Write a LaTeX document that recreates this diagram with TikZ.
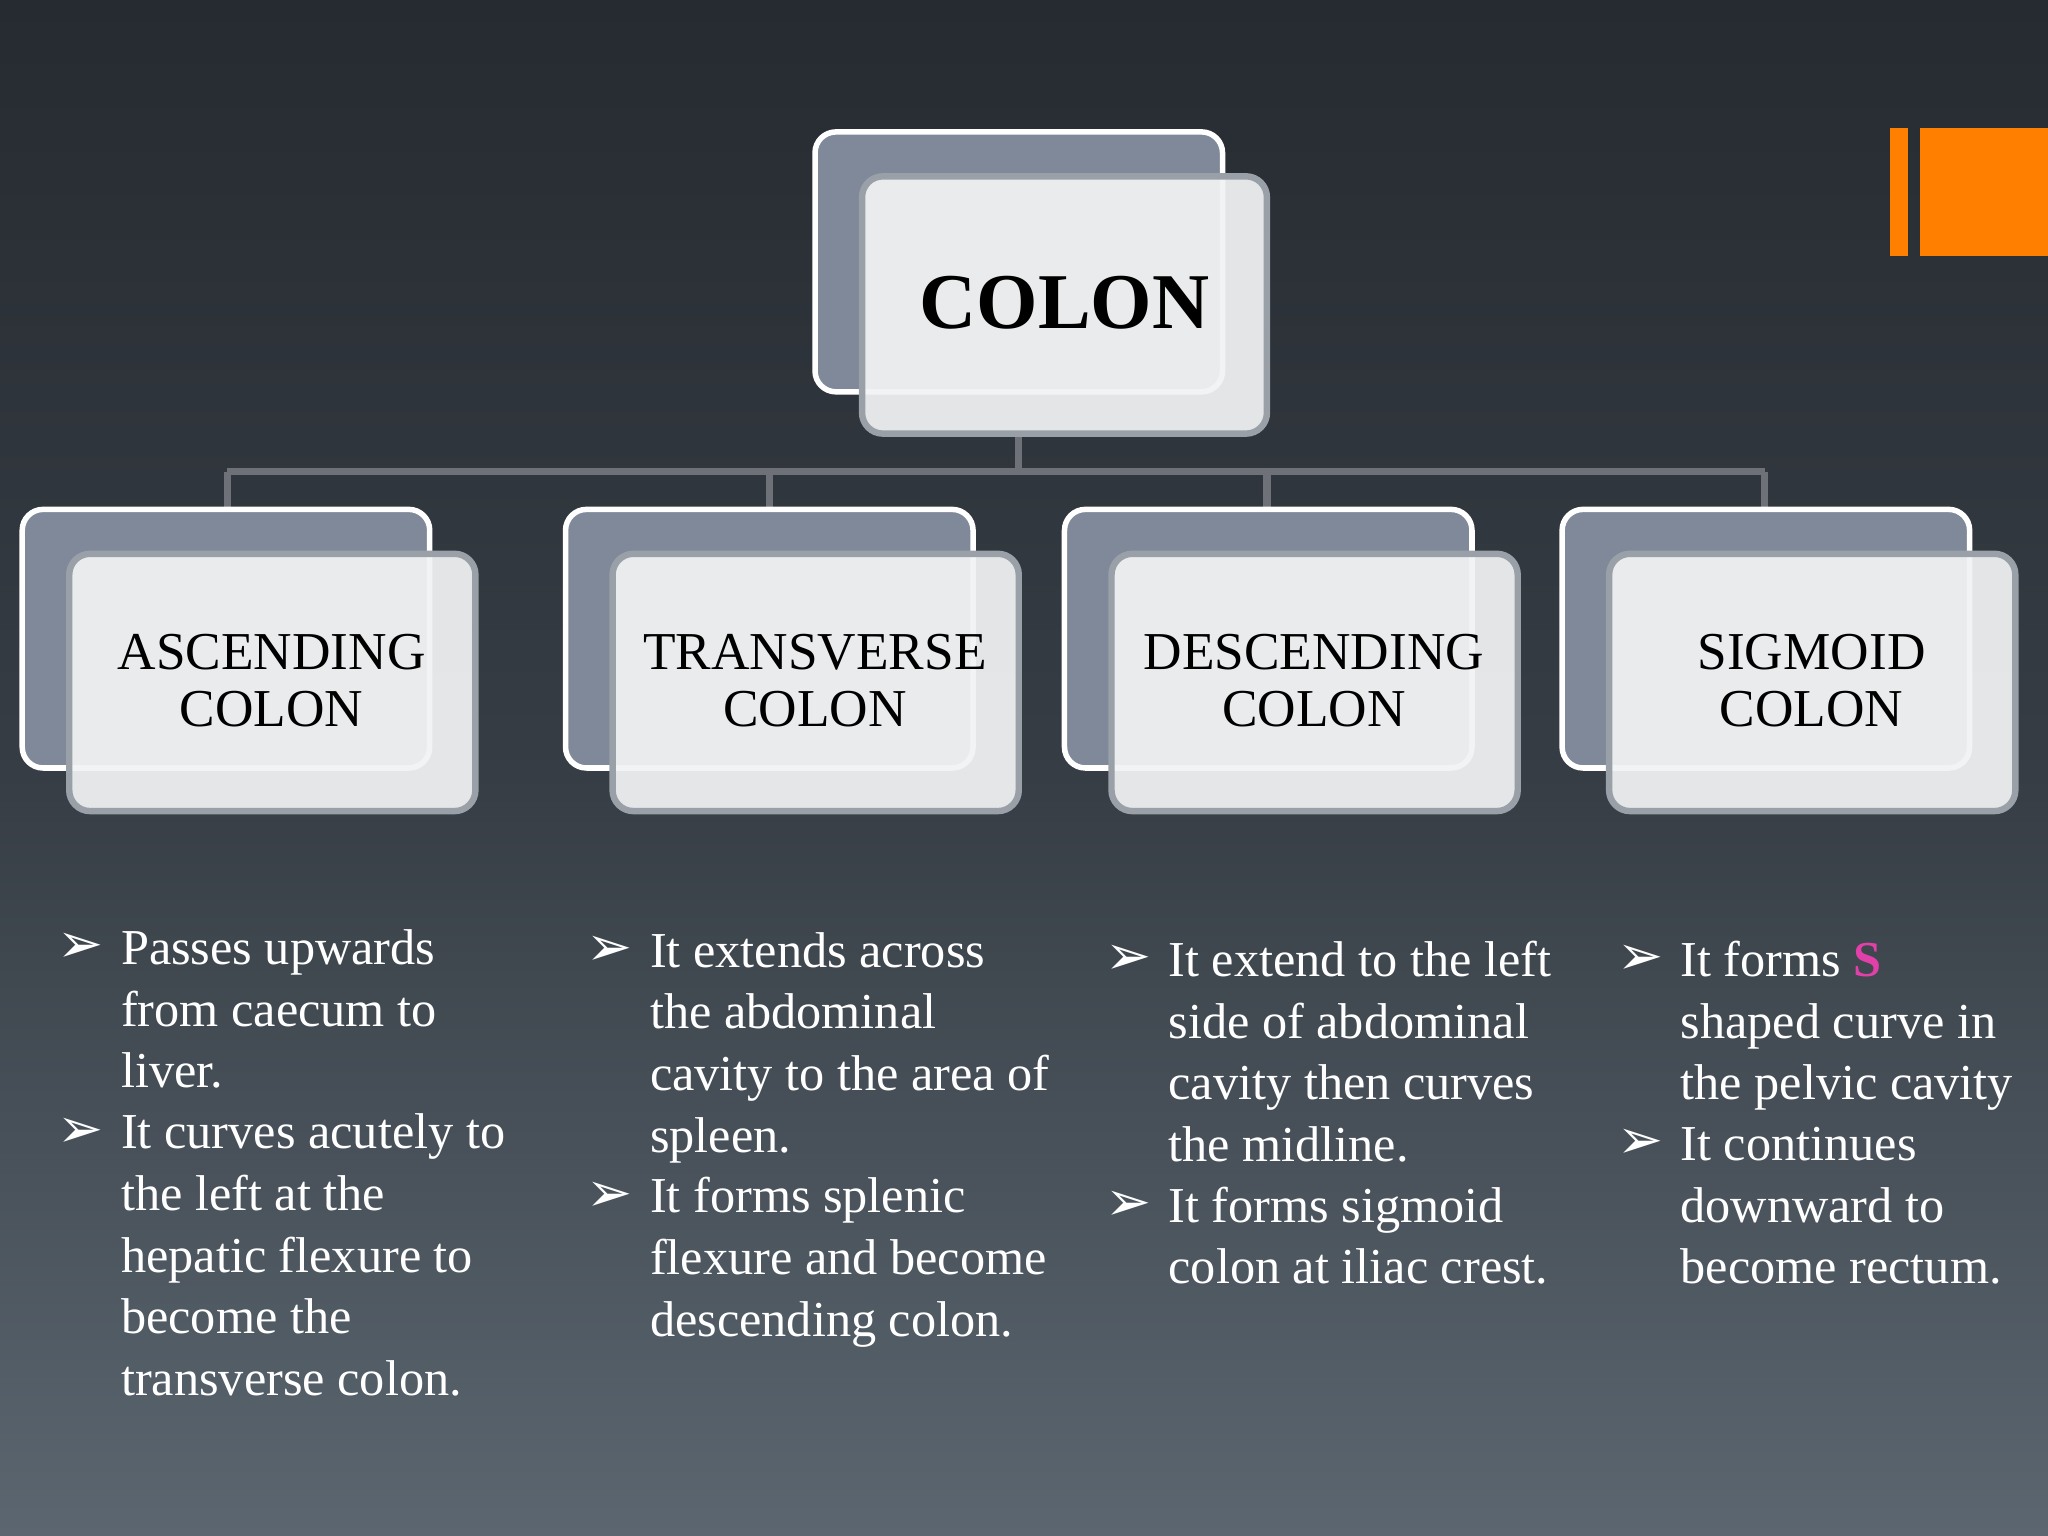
\documentclass[tikz,border=0pt]{standalone}
\usepackage{fontspec}
\setmainfont{Liberation Serif}
\newfontfamily\dv{DejaVu Sans}
\definecolor{bgtop}{HTML}{262B31}
\definecolor{bgbot}{HTML}{5B6670}
\definecolor{backbox}{HTML}{7F8999}
\definecolor{frontbox}{HTML}{F2F3F4}
\definecolor{frontedge}{HTML}{9AA0A8}
\definecolor{conn}{HTML}{6E7278}
\definecolor{orng}{HTML}{FF8000}
\definecolor{mag}{HTML}{E040A8}
\tikzset{
 backb/.style={fill=backbox,draw=white,line width=1.2pt,rounded corners=0.16cm},
 frontb/.style={fill=frontbox,fill opacity=0.93,draw=frontedge,line width=1.4pt,rounded corners=0.16cm},
 conline/.style={draw=conn,line width=1.6pt},
 childtxt/.style={font=\fontsize{11.6}{12.4}\selectfont,align=center,text=black},
 bul/.style={anchor=north west,inner sep=0pt,text=white,font=\fontsize{10.95}{13.4}\selectfont,align=left},
 arr/.style={anchor=north west,inner sep=0pt,text=white,font=\dv\fontsize{12}{13.4}\selectfont}
}
\begin{document}
\begin{tikzpicture}[x=0.01cm,y=-0.01cm]
\useasboundingbox (0,0) rectangle (1568,1176);
\shade[top color=bgtop,bottom color=bgbot,middle color=bgtop!70!bgbot] (0,0) rectangle (1568,1176);
\fill[orng] (1447,98) rectangle (1461,196);
\fill[orng] (1470,98) rectangle (1568,196);
\coordinate (hub) at (780,361);
\coordinate (h1) at (174,361);
\coordinate (h4) at (1351,361);
\draw[conline] (780,332) -- (hub);
\draw[conline] (h1) -- (h4);
\foreach \x in {174,589,970,1351} \draw[conline] (\x,361) -- (\x,390);
\draw[backb] (624,101) rectangle (936,300);
\draw[frontb] (660,135) rectangle (970,332);
\node[font=\bfseries\fontsize{17.2}{19}\selectfont] (root) at (815,232) {COLON};
\foreach \bx/\name/\txt in {17/asc/{ASCENDING\\COLON},433/trn/{TRANSVERSE\\COLON},815/des/{DESCENDING\\COLON},1196/sig/{SIGMOID\\COLON}}{
 \draw[backb] (\bx,390) rectangle (\bx+312,588);
 \draw[frontb] (\bx+36,424) rectangle (\bx+347,621);
 \node[childtxt] (\name) at (\bx+191,521) {\txt};
}
\node[arr] (a1) at (43,714) {➢};
\node[bul] (t1) at (92,705) {\strut Passes upwards\\from caecum to\\liver.};
\node[arr] (a2) at (43,855) {➢};
\node[bul] (t2) at (92,846) {\strut It curves acutely to\\the left at the\\hepatic flexure to\\become the\\transverse colon.};
\node[arr] (a3) at (448,716) {➢};
\node[bul] (t3) at (497,707) {\strut It extends across\\the abdominal\\cavity to the area of\\spleen.};
\node[arr] (a4) at (448,904) {➢};
\node[bul] (t4) at (497,895) {\strut It forms splenic\\flexure and become\\descending colon.};
\node[arr] (a5) at (846,723) {➢};
\node[bul] (t5) at (894,714) {\strut It extend to the left\\side of abdominal\\cavity then curves\\the midline.};
\node[arr] (a6) at (846,911) {➢};
\node[bul] (t6) at (894,902) {\strut It forms sigmoid\\colon at iliac crest.};
\node[arr] (a7) at (1238,723) {➢};
\node[bul] (t7) at (1286,714) {\strut It forms {\color{mag}\bfseries S}\\shaped curve in\\the pelvic cavity};
\node[arr] (a8) at (1238,864) {➢};
\node[bul] (t8) at (1286,855) {\strut It continues\\downward to\\become rectum.};
\end{tikzpicture}
\end{document}
